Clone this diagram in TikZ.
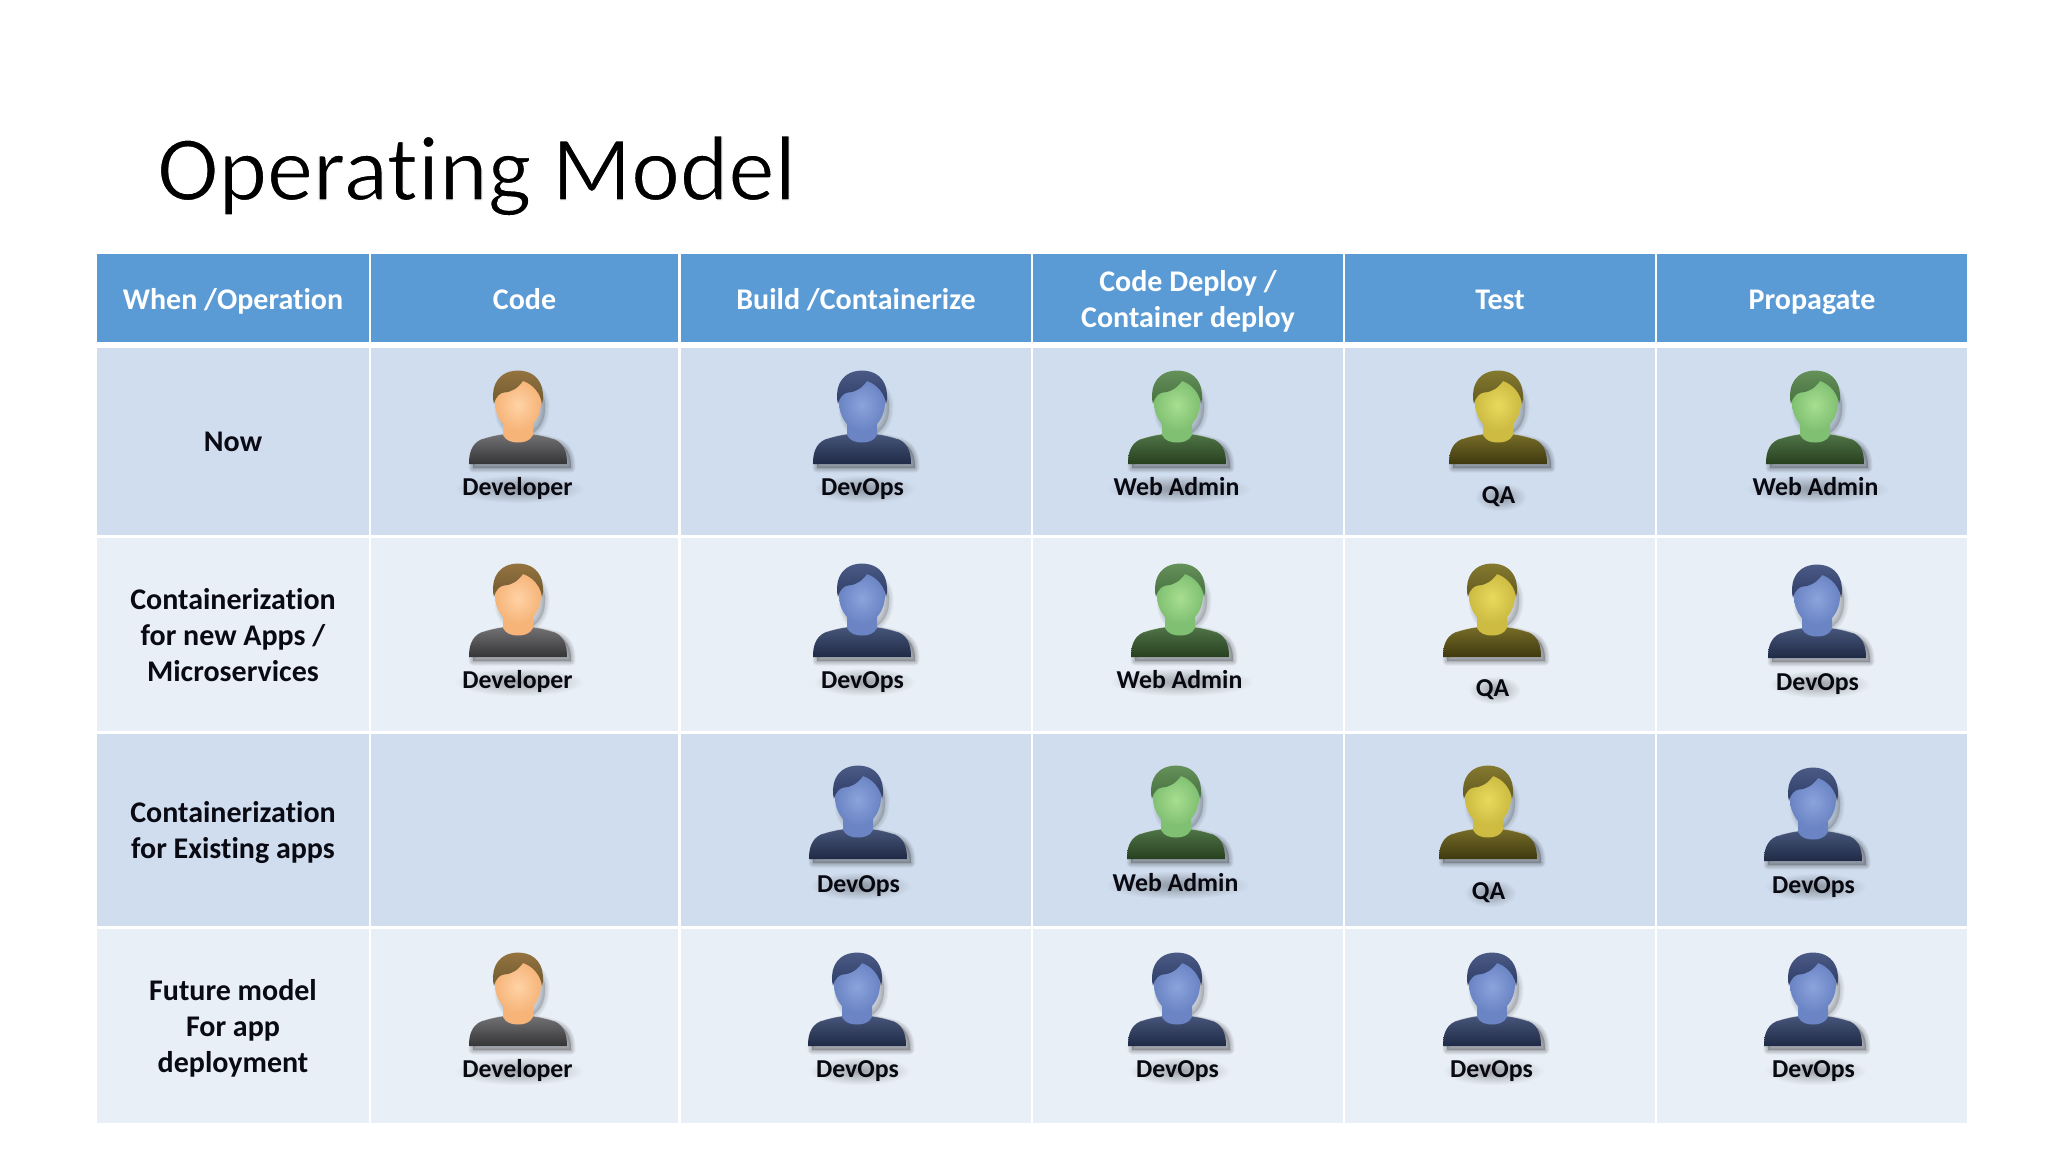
\documentclass[tikz,border=0pt]{standalone}
\usepackage{fontspec}
\usetikzlibrary{fadings}
\setmainfont[Ligatures=NoCommon]{Carlito}
\newcommand{\thintext}[1]{\special{pdf:code 2 Tr 1 1 1 RG 1.2 w}#1\special{pdf:code 0 Tr}}
\tikzfading[name=softbox,inner color=transparent!68,outer color=transparent!100]
\tikzset{
  hdr/.style={fill=hdrblue,text=white,font=\fontsize{30}{36}\selectfont\bfseries,align=center,inner sep=0pt},
  bandA/.style={fill=rowdark,text=inkc,font=\fontsize{30}{36}\selectfont\bfseries,align=center,inner sep=0pt},
  bandB/.style={fill=rowlight,text=inkc,font=\fontsize{30}{36}\selectfont\bfseries,align=center,inner sep=0pt},
  tag/.style={text=inkc,font=\fontsize{25.8}{30}\selectfont\bfseries,inner sep=0pt,anchor=base},
  Developerhair/.style={top color=DevHa,bottom color=DevHb},
  Developerface/.style={inner color=DevFa,outer color=DevFb},
  Developerneck/.style={fill=DevFb},
  Developerbody/.style={top color=DevBa,bottom color=DevBb},
  DevOpshair/.style={top color=OpsHa,bottom color=OpsHb},
  DevOpsface/.style={inner color=OpsFa,outer color=OpsFb},
  DevOpsneck/.style={fill=OpsFb},
  DevOpsbody/.style={top color=OpsBa,bottom color=OpsBb},
  WebAdminhair/.style={top color=WebHa,bottom color=WebHb},
  WebAdminface/.style={inner color=WebFa,outer color=WebFb},
  WebAdminneck/.style={fill=WebFb},
  WebAdminbody/.style={top color=WebBa,bottom color=WebBb},
  QAhair/.style={top color=QaHa,bottom color=QaHb},
  QAface/.style={inner color=QaFa,outer color=QaFb},
  QAneck/.style={fill=QaFb},
  QAbody/.style={top color=QaBa,bottom color=QaBb},
}
\definecolor{hdrblue}{HTML}{5B9BD5}
\definecolor{rowdark}{HTML}{D0DDEE}
\definecolor{rowlight}{HTML}{E9EFF7}
\definecolor{inkc}{HTML}{0A0A14}
\definecolor{DevHa}{HTML}{94733F}\definecolor{DevHb}{HTML}{6F5A30}
\definecolor{DevFa}{HTML}{FFD2A6}\definecolor{DevFb}{HTML}{F6B478}
\definecolor{DevBa}{HTML}{727274}\definecolor{DevBb}{HTML}{353537}
\definecolor{OpsHa}{HTML}{4A5A85}\definecolor{OpsHb}{HTML}{2F3D66}
\definecolor{OpsFa}{HTML}{8CA3DC}\definecolor{OpsFb}{HTML}{6A84C4}
\definecolor{OpsBa}{HTML}{46557A}\definecolor{OpsBb}{HTML}{1F2A45}
\definecolor{WebHa}{HTML}{64905A}\definecolor{WebHb}{HTML}{47703E}
\definecolor{WebFa}{HTML}{A8DE90}\definecolor{WebFb}{HTML}{80C072}
\definecolor{WebBa}{HTML}{4F7447}\definecolor{WebBb}{HTML}{27401F}
\definecolor{QaHa}{HTML}{84792F}\definecolor{QaHb}{HTML}{625A20}
\definecolor{QaFa}{HTML}{E8D95C}\definecolor{QaFb}{HTML}{CDBB42}
\definecolor{QaBa}{HTML}{766C28}\definecolor{QaBb}{HTML}{3F390F}
\def\bodypath{(-49,0) .. controls (-49,-8) and (-48,-20) .. (-36,-25) .. controls (-30,-27) and (-22,-29) .. (-14,-30) -- (14,-30) .. controls (22,-29) and (30,-27) .. (36,-25) .. controls (48,-20) and (49,-8) .. (49,0) -- cycle}
\def\neckpath{(-15,-40) -- (-15,-29) .. controls (-12,-23) and (-6,-21.5) .. (0,-21.5) .. controls (6,-21.5) and (12,-23) .. (15,-29) -- (15,-40) -- cycle}
\def\facepath{(-23,-62) .. controls (-23,-45) and (-12,-33) .. (0,-33) .. controls (12,-33) and (23,-45) .. (23,-62) .. controls (23,-75) and (12,-85) .. (0,-85) .. controls (-12,-85) and (-23,-75) .. (-23,-62) -- cycle}
\def\hairpath{(-24,-60) .. controls (-27,-70) and (-25,-93) .. (0,-93.5) .. controls (25,-93) and (27,-70) .. (24,-60) .. controls (23,-70) and (15,-80) .. (5,-83) .. controls (0,-76) and (-6,-72) .. (-14,-71.5) .. controls (-18,-71) and (-22,-68) .. (-24,-60) -- cycle}
\def\headshadow{(-23,-60) .. controls (-25,-94) and (25,-94) .. (23,-60) .. controls (23,-42) and (12,-32) .. (0,-32) .. controls (-12,-32) and (-23,-42) .. (-23,-60) -- cycle}
% #1 kind, #2 x, #3 y of the foot of the figure, #4 name, #5 label, #6 label x, #7 label y of the text centre
\newcommand{\person}[7]{%
  \begin{scope}[shift={(#2,#3)}]
    \begin{scope}[shift={(4,4)}]
      \foreach \w in {9,7,5,3,1}{
        \draw[black,opacity=.05,line width=\w pt,line join=round] \bodypath;
        \draw[black,opacity=.03,line width=\w pt,line join=round] \headshadow;
      }
      \fill[black,opacity=.22] \bodypath;
      \fill[black,opacity=.15] \headshadow;
    \end{scope}
    \shade[#1body] \bodypath;
    \draw[white,opacity=.35,line width=.7pt] (-36,-25) .. controls (-30,-27) and (-22,-29) .. (-14,-30);
    \draw[white,opacity=.35,line width=.7pt] (14,-30) .. controls (22,-29) and (30,-27) .. (36,-25);
    \path[#1neck] \neckpath;
    \shade[#1face] \facepath;
    \shade[#1hair] \hairpath;
  \end{scope}
  \node[tag] (#4) at (#6+0.5,#7+9) {#5};
  \path[fill=black,path fading=softbox] ([shift={(-7,8)}]#4.base west) rectangle ([shift={(11,-20)}]#4.base east);
}
% #1 extra drop of the text, #2 name, #3 style, #4 x0, #5 y0, #6 x1, #7 y1, #8 text
\newcommand{\cell}[8][2.8]{%
  \path[#3] (#4,#5) rectangle (#6,#7);
  \node[#3,fill=none,yshift=-#1pt] (#2) at ({(#4+#6)/2},{(#5+#7)/2}) {\strut#8\strut};
}
\begin{document}
\begin{tikzpicture}[x=1pt,y=-1pt]
\useasboundingbox[fill=white] (0,0) rectangle (2048,1152);
\node[anchor=base west,inner sep=0pt,font=\fontsize{92.5}{110}\selectfont,text=black] (title) at (157,200) {\thintext{Operating Model}};

\cell[4]{h1}{hdr}{97}{254}{369}{342}{When /Operation}
\cell[4]{h2}{hdr}{371}{254}{678}{342}{Code}
\cell[4]{h3}{hdr}{681}{254}{1031}{342}{Build /Containerize}
\cell[4]{h4}{hdr}{1033}{254}{1343}{342}{Code Deploy /\\Container deploy}
\cell[4]{h5}{hdr}{1345}{254}{1655}{342}{Test}
\cell[4]{h6}{hdr}{1657}{254}{1967}{342}{Propagate}

\cell{a1}{bandA}{97}{348}{369}{535}{Now}
\cell{a2}{bandA}{371}{348}{678}{535}{}
\cell{a3}{bandA}{681}{348}{1031}{535}{}
\cell{a4}{bandA}{1033}{348}{1343}{535}{}
\cell{a5}{bandA}{1345}{348}{1655}{535}{}
\cell{a6}{bandA}{1657}{348}{1967}{535}{}

\cell[3.3]{b1}{bandB}{97}{538}{369}{731}{Containerization\\for new Apps /\\Microservices}
\cell{b2}{bandB}{371}{538}{678}{731}{}
\cell{b3}{bandB}{681}{538}{1031}{731}{}
\cell{b4}{bandB}{1033}{538}{1343}{731}{}
\cell{b5}{bandB}{1345}{538}{1655}{731}{}
\cell{b6}{bandB}{1657}{538}{1967}{731}{}

\cell[3.3]{c1}{bandA}{97}{734}{369}{926}{Containerization\\for Existing apps}
\cell{c2}{bandA}{371}{734}{678}{926}{}
\cell{c3}{bandA}{681}{734}{1031}{926}{}
\cell{c4}{bandA}{1033}{734}{1343}{926}{}
\cell{c5}{bandA}{1345}{734}{1655}{926}{}
\cell{c6}{bandA}{1657}{734}{1967}{926}{}

\cell{d1}{bandB}{97}{929}{369}{1123}{Future model\\For app\\deployment}
\cell{d2}{bandB}{371}{929}{678}{1123}{}
\cell{d3}{bandB}{681}{929}{1031}{1123}{}
\cell{d4}{bandB}{1033}{929}{1343}{1123}{}
\cell{d5}{bandB}{1345}{929}{1655}{1123}{}
\cell{d6}{bandB}{1657}{929}{1967}{1123}{}

\person{Developer}{518}{464}{p11}{Developer}{517}{486}
\person{DevOps}{862}{464}{p12}{DevOps}{862}{486}
\person{WebAdmin}{1177}{464}{p13}{Web Admin}{1176}{486}
\person{QA}{1498}{464}{p14}{QA}{1498}{494}
\person{WebAdmin}{1815}{464}{p15}{Web Admin}{1815}{486}

\person{Developer}{518}{657}{p21}{Developer}{517}{679}
\person{DevOps}{862}{657}{p22}{DevOps}{862}{679}
\person{WebAdmin}{1180}{657}{p23}{Web Admin}{1179}{679}
\person{QA}{1492}{657}{p24}{QA}{1492}{687}
\person{DevOps}{1817}{658}{p25}{DevOps}{1817}{681}

\person{DevOps}{858}{859}{p31}{DevOps}{858}{883}
\person{WebAdmin}{1176}{859}{p32}{Web Admin}{1175}{882}
\person{QA}{1488}{859}{p33}{QA}{1488}{890}
\person{DevOps}{1813}{861}{p34}{DevOps}{1813}{884}

\person{Developer}{518}{1046}{p41}{Developer}{517}{1068}
\person{DevOps}{857}{1046}{p42}{DevOps}{857}{1068}
\person{DevOps}{1177}{1046}{p43}{DevOps}{1177}{1068}
\person{DevOps}{1492}{1046}{p44}{DevOps}{1491}{1068}
\person{DevOps}{1813}{1046}{p45}{DevOps}{1813}{1068}
\end{tikzpicture}
\end{document}
